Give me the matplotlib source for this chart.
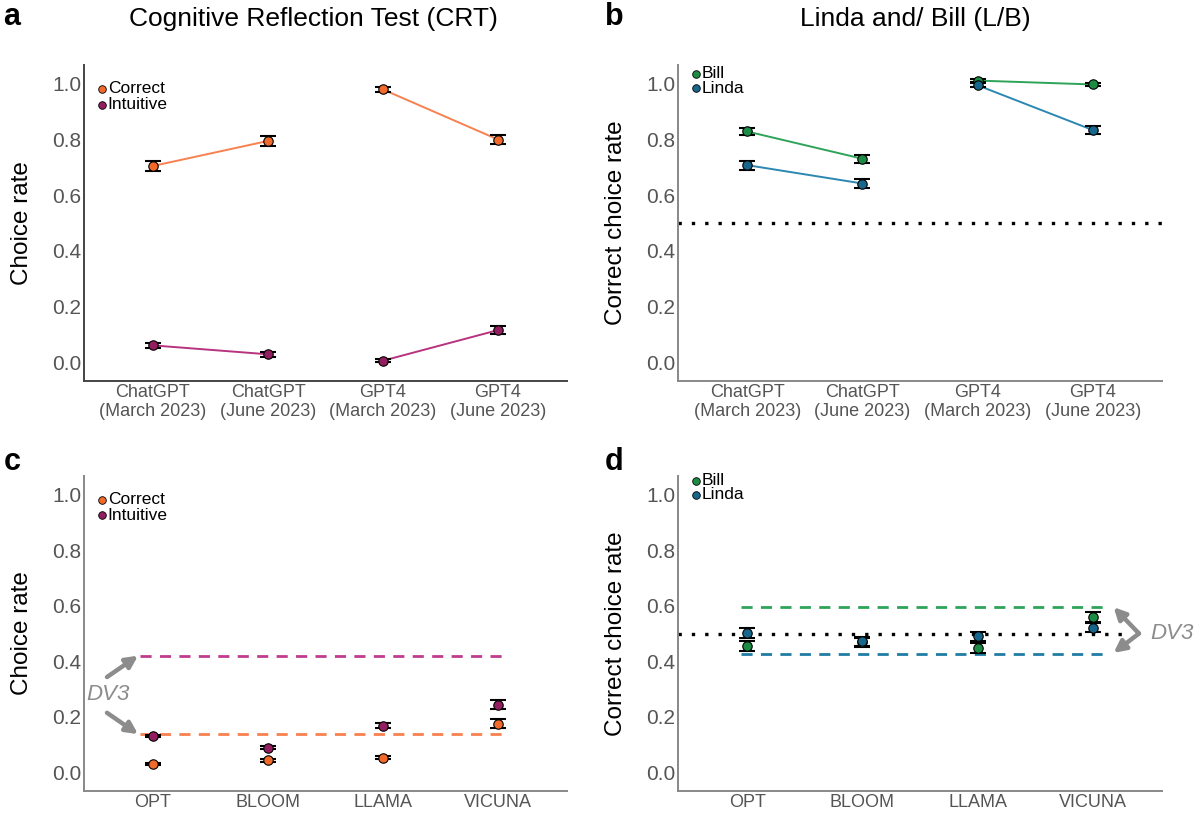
import numpy as np
import matplotlib
matplotlib.use("Agg")
import matplotlib.pyplot as plt

plt.rcParams['font.family'] = ['Liberation Sans', 'DejaVu Sans']

# ---- data ----
gpt_labels = ["ChatGPT\n(March 2023)", "ChatGPT\n(June 2023)", "GPT4\n(March 2023)", "GPT4\n(June 2023)"]
open_labels = ["OPT", "BLOOM", "LLAMA", "VICUNA"]

crt_correct = [0.705, 0.795, 0.980, 0.800]
crt_correct_err = [0.018, 0.017, 0.008, 0.017]
crt_intuitive = [0.060, 0.028, 0.005, 0.115]
crt_intuitive_err = [0.010, 0.009, 0.006, 0.014]

lb_bill = [0.829, 0.731, 1.012, 0.998]
lb_bill_err = [0.012, 0.015, 0.005, 0.004]
lb_linda = [0.708, 0.642, 0.995, 0.834]
lb_linda_err = [0.016, 0.016, 0.007, 0.013]

open_correct = [0.029, 0.043, 0.052, 0.175]
open_correct_err = [0.005, 0.005, 0.006, 0.016]
open_intuitive = [0.130, 0.088, 0.168, 0.243]
open_intuitive_err = [0.005, 0.006, 0.008, 0.017]

open_bill = [0.455, 0.468, 0.448, 0.560]
open_bill_err = [0.017, 0.016, 0.017, 0.017]
open_linda = [0.502, 0.472, 0.490, 0.521]
open_linda_err = [0.017, 0.016, 0.017, 0.017]

dv3_correct = 0.137
dv3_intuitive = 0.42
dv3_bill = 0.597
dv3_linda = 0.425
chance = 0.5

# ---- colours ----
c_orange_line, c_orange_pt = "#F9804F", "#F26A2B"
c_purple_line, c_purple_pt = "#B8337E", "#921D5F"
c_green_line, c_green_pt = "#2EA45A", "#1C8C45"
c_blue_line, c_blue_pt = "#2C87B2", "#17668C"
c_arrow = "#8C8C8C"

W, H = 1200, 825
fig = plt.figure(figsize=(12, 8.25), dpi=100)


def add_ax(left, top, right, bottom):
    return fig.add_axes([left / W, 1 - bottom / H, (right - left) / W, (bottom - top) / H])


def style(ax, labels, ylabel, spine_col):
    ax.set_xlim(0.4, 4.6)
    ax.set_ylim(-0.068, 1.068)
    ax.set_xticks(range(1, 5))
    ax.set_xticklabels(labels, fontsize=13, color="#555555", linespacing=1.2)
    ax.set_yticks([0, 0.2, 0.4, 0.6, 0.8, 1.0])
    ax.set_yticklabels(["0.0", "0.2", "0.4", "0.6", "0.8", "1.0"], fontsize=15, color="#555555")
    ax.tick_params(length=0, pad=2)
    for s in ["top", "right"]:
        ax.spines[s].set_visible(False)
    for s in ["left", "bottom"]:
        ax.spines[s].set_color(spine_col)
        ax.spines[s].set_linewidth(1.4)
    ax.set_ylabel(ylabel, fontsize=17.5, labelpad=14)


def series(ax, y, err, lc, pc, line=True):
    x = np.arange(1, 5)
    if line:
        ax.plot(x[:2], y[:2], color=lc, lw=1.4, zorder=2)
        ax.plot(x[2:], y[2:], color=lc, lw=1.4, zorder=2)
    ax.errorbar(x, y, yerr=err, fmt="none", ecolor="black", elinewidth=1.4,
                capsize=5.5, capthick=1.5, zorder=3)
    ax.scatter(x, y, s=46, color=pc, edgecolor="black", linewidth=0.8, zorder=4)


def legend(ax, names, cols, y0, dy):
    for i, (n, c) in enumerate(zip(names, cols)):
        ax.scatter([0.038], [y0 - i * dy], s=30, color=c, edgecolor="black", linewidth=0.6,
                   transform=ax.transAxes, clip_on=False, zorder=5)
        ax.text(0.049, y0 - i * dy, n, transform=ax.transAxes, fontsize=12.5,
                va="center", ha="left")


# ---- a ----
ax_a = add_ax(84, 65, 567, 381)
style(ax_a, gpt_labels, "Choice rate", "#444444")
series(ax_a, crt_correct, crt_correct_err, c_orange_line, c_orange_pt)
series(ax_a, crt_intuitive, crt_intuitive_err, c_purple_line, c_purple_pt)
legend(ax_a, ["Correct", "Intuitive"], [c_orange_pt, c_purple_pt], 0.925, 0.05)

# ---- b ----
ax_b = add_ax(678, 65, 1162, 381)
style(ax_b, gpt_labels, "Correct choice rate", "#888888")
ax_b.axhline(chance, color="black", lw=2.4, ls=(0, (1, 3)), zorder=1)
series(ax_b, lb_bill, lb_bill_err, c_green_line, c_green_pt)
series(ax_b, lb_linda, lb_linda_err, c_blue_line, c_blue_pt)
legend(ax_b, ["Bill", "Linda"], [c_green_pt, c_blue_pt], 0.972, 0.045)

# ---- c ----
ax_c = add_ax(84, 476, 567, 791)
style(ax_c, open_labels, "Choice rate", "#888888")
ax_c.plot([0.89, 4.08], [dv3_intuitive] * 2, color="#C03C8C", lw=2, ls=(0, (4, 3)), zorder=1)
ax_c.plot([0.89, 4.08], [dv3_correct] * 2, color="#F9804F", lw=2, ls=(0, (4, 3)), zorder=1)
series(ax_c, open_correct, open_correct_err, None, c_orange_pt, line=False)
series(ax_c, open_intuitive, open_intuitive_err, None, c_purple_pt, line=False)
legend(ax_c, ["Correct", "Intuitive"], [c_orange_pt, c_purple_pt], 0.925, 0.05)
arr = dict(arrowstyle="-|>,head_length=0.7,head_width=0.35", color=c_arrow, lw=3.2,
           shrinkA=0, shrinkB=0)
ax_c.annotate("", xy=(0.87, dv3_intuitive), xytext=(0.60, 0.343), arrowprops=arr, annotation_clip=False)
ax_c.annotate("", xy=(0.87, dv3_correct), xytext=(0.60, 0.214), arrowprops=arr, annotation_clip=False)
ax_c.text(0.61, 0.279, "DV3", fontsize=16, style="italic", color=c_arrow, ha="center", va="center")

# ---- d ----
ax_d = add_ax(678, 476, 1162, 791)
style(ax_d, open_labels, "Correct choice rate", "#888888")
ax_d.plot([0.4, 4.33], [chance] * 2, color="black", lw=2.4, ls=(0, (1, 3)), zorder=1)
ax_d.plot([0.95, 4.12], [dv3_bill] * 2, color="#2EA45A", lw=2, ls=(0, (4, 3)), zorder=1)
ax_d.plot([0.95, 4.12], [dv3_linda] * 2, color="#1F7CA3", lw=2, ls=(0, (4, 3)), zorder=1)
series(ax_d, open_bill, open_bill_err, None, c_green_pt, line=False)
series(ax_d, open_linda, open_linda_err, None, c_blue_pt, line=False)
legend(ax_d, ["Bill", "Linda"], [c_green_pt, c_blue_pt], 0.985, 0.045)
ax_d.annotate("", xy=(4.18, 0.595), xytext=(4.4, chance), arrowprops=arr, annotation_clip=False)
ax_d.annotate("", xy=(4.18, 0.43), xytext=(4.4, chance), arrowprops=arr, annotation_clip=False)
ax_d.text(4.5, chance, "DV3", fontsize=16, style="italic", color=c_arrow, ha="left", va="center")

# ---- titles and panel letters ----
fig.text(313 / W, 1 - 19 / H, "Cognitive Reflection Test (CRT)", fontsize=19, ha="center", va="center")
fig.text(915 / W, 1 - 19 / H, "Linda and/ Bill (L/B)", fontsize=19, ha="center", va="center")
for lab, x, y in [("a", 12, 17), ("b", 614, 17), ("c", 12, 462), ("d", 614, 462)]:
    fig.text(x / W, 1 - y / H, lab, fontsize=22, fontweight="bold", ha="center", va="center")

fig.savefig("out.png", dpi=100)
